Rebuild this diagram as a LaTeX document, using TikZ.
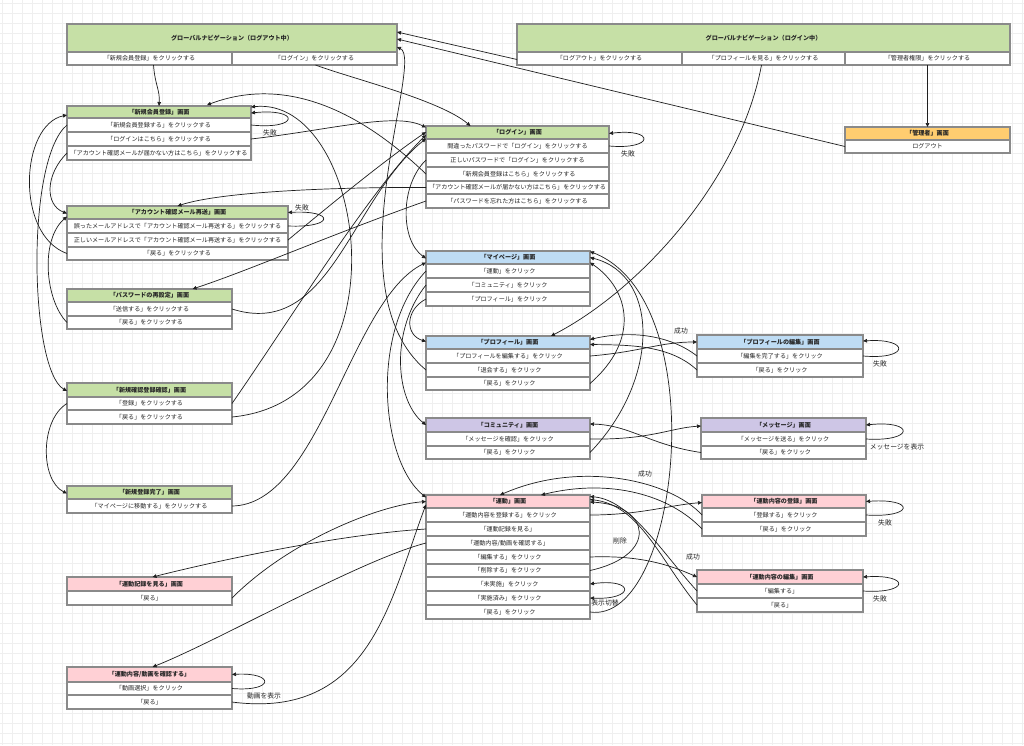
\documentclass[tikz,border=0pt]{standalone}
\usepackage{fontspec}
\setmainfont{Noto Sans CJK JP}
\usetikzlibrary{arrows.meta}
\definecolor{cgreen}{HTML}{C6E0A6}
\definecolor{cblue}{HTML}{BEDCF4}
\definecolor{cpurple}{HTML}{CEC6E6}
\definecolor{cpink}{HTML}{FFD0D5}
\definecolor{corange}{HTML}{FFCD70}
\definecolor{cborder}{HTML}{8A8A8A}
\definecolor{gridc}{HTML}{EFEFEF}
\definecolor{linec}{HTML}{1E1E1E}
\tikzset{
 cellsty/.style={draw=cborder, line width=1.1pt, inner sep=0pt, outer sep=0pt, font=\fontsize{6.1}{7}\selectfont, text=black!85},
 edge/.style={draw=linec, line width=0.7pt, -{Triangle[length=4pt,width=3.6pt]}},
 edgeb/.style={draw=linec, line width=0.7pt, {Triangle[length=4pt,width=3.6pt]}-{Triangle[length=4pt,width=3.6pt]}},
 lab/.style={font=\fontsize{6.8}{8}\selectfont, inner sep=1pt, text=black!85},
 gridline/.style={draw=gridc, line width=0.5pt}
}
\newcommand\cbox[7]{\pgfmathsetmacro\cbw{#4-#3}\pgfmathsetmacro\cbh{#6-#5}%
 \node[cellsty,fill=#2,minimum width=\cbw pt,minimum height=\cbh pt] (#1) at ({(#3+#4)/2},{(#5+#6)/2}) {#7};}
\newcommand\hdrbox[7]{\pgfmathsetmacro\cbw{#4-#3}\pgfmathsetmacro\cbh{#6-#5}%
 \node[cellsty,fill=#2,minimum width=\cbw pt,minimum height=\cbh pt] (#1) at ({(#3+#4)/2},{(#5+#6)/2}) {\bfseries #7};}
\begin{document}
\begin{tikzpicture}[x=1pt,y=-1pt]
\useasboundingbox (0,0) rectangle (1024,745);
\fill[white] (0,0) rectangle (1024,745);
\foreach \gx in {2,12,...,1022} {\draw[gridline] (\gx,0) -- (\gx,745);}
\foreach \gy in {3,13,...,743} {\draw[gridline] (0,\gy) -- (1024,\gy);}
% global nav logged out
\hdrbox{gout}{cgreen}{67}{397}{24}{52}{グローバルナビゲーション（ログアウト中）}
\cbox{gouta}{white}{67}{232}{52}{65}{「新規会員登録」をクリックする}
\cbox{goutb}{white}{232}{397}{52}{65}{「ログイン」をクリックする}
% global nav logged in
\hdrbox{gin}{cgreen}{517}{1010}{24}{52}{グローバルナビゲーション（ログイン中）}
\cbox{gina}{white}{517}{682}{52}{65}{「ログアウト」をクリックする}
\cbox{ginb}{white}{682}{845}{52}{65}{「プロフィールを見る」をクリックする}
\cbox{ginc}{white}{845}{1010}{52}{65}{「管理者権限」をクリックする}
% admin
\hdrbox{adm}{corange}{845}{1010}{127}{140}{「管理者」画面}
\cbox{adma}{white}{845}{1010}{140}{153}{ログアウト}
% new member
\hdrbox{nk}{cgreen}{67}{251}{106}{118}{「新規会員登録」画面}
\cbox{nka}{white}{67}{251}{118}{132}{「新規会員登録する」をクリックする}
\cbox{nkb}{white}{67}{251}{132}{146}{「ログインはこちら」をクリックする}
\cbox{nkc}{white}{67}{251}{146}{160}{「アカウント確認メールが届かない方はこちら」をクリックする}
% resend
\hdrbox{rs}{cgreen}{67}{288}{206}{219}{「アカウント確認メール再送」画面}
\cbox{rsa}{white}{67}{288}{219}{233}{誤ったメールアドレスで「アカウント確認メール再送する」をクリックする}
\cbox{rsb}{white}{67}{288}{233}{247}{正しいメールアドレスで「アカウント確認メール再送する」をクリックする}
\cbox{rsc}{white}{67}{288}{247}{260}{「戻る」をクリックする}
% password reset
\hdrbox{pw}{cgreen}{67}{232}{289}{302}{「パスワードの再設定」画面}
\cbox{pwa}{white}{67}{232}{302}{316}{「送信する」をクリックする}
\cbox{pwb}{white}{67}{232}{316}{329}{「戻る」をクリックする}
% confirm
\hdrbox{cf}{cgreen}{67}{232}{383}{397}{「新規確認登録確認」画面}
\cbox{cfa}{white}{67}{232}{397}{410}{「登録」をクリックする}
\cbox{cfb}{white}{67}{232}{410}{424}{「戻る」をクリックする}
% done
\hdrbox{dn}{cgreen}{67}{232}{486}{499}{「新規登録完了」画面}
\cbox{dna}{white}{67}{232}{499}{513}{「マイページに移動する」をクリックする}
% login
\hdrbox{lg}{cgreen}{426}{609}{126}{139}{「ログイン」画面}
\cbox{lga}{white}{426}{609}{139}{153}{間違ったパスワードで「ログイン」をクリックする}
\cbox{lgb}{white}{426}{609}{153}{167}{正しいパスワードで「ログイン」をクリックする}
\cbox{lgc}{white}{426}{609}{167}{181}{「新規会員登録はこちら」をクリックする}
\cbox{lgd}{white}{426}{609}{181}{194}{「アカウント確認メールが届かない方はこちら」をクリックする}
\cbox{lge}{white}{426}{609}{194}{208}{「パスワードを忘れた方はこちら」をクリックする}
% mypage
\hdrbox{mp}{cblue}{426}{590}{251}{264}{「マイページ」画面}
\cbox{mpa}{white}{426}{590}{264}{278}{「運動」をクリック}
\cbox{mpb}{white}{426}{590}{278}{292}{「コミュニティ」をクリック}
\cbox{mpc}{white}{426}{590}{292}{306}{「プロフィール」をクリック}
% profile
\hdrbox{pf}{cblue}{426}{590}{336}{349}{「プロフィール」画面}
\cbox{pfa}{white}{426}{590}{349}{363}{「プロフィールを編集する」をクリック}
\cbox{pfb}{white}{426}{590}{363}{377}{「退会する」をクリック}
\cbox{pfc}{white}{426}{590}{377}{390}{「戻る」をクリック}
% profile edit
\hdrbox{pe}{cblue}{697}{863}{335}{349}{「プロフィールの編集」画面}
\cbox{pea}{white}{697}{863}{349}{363}{「編集を完了する」をクリック}
\cbox{peb}{white}{697}{863}{363}{377}{「戻る」をクリック}
% community
\hdrbox{cm}{cpurple}{426}{590}{418}{432}{「コミュニティ」画面}
\cbox{cma}{white}{426}{590}{432}{446}{「メッセージを確認」をクリック}
\cbox{cmb}{white}{426}{590}{446}{459}{「戻る」をクリック}
% message
\hdrbox{ms}{cpurple}{701}{866}{418}{432}{「メッセージ」画面}
\cbox{msa}{white}{701}{866}{432}{446}{「メッセージを送る」をクリック}
\cbox{msb}{white}{701}{866}{446}{459}{「戻る」をクリック}
% exercise
\hdrbox{ex}{cpink}{426}{590}{495}{508}{「運動」画面}
\cbox{exa}{white}{426}{590}{508}{522}{「運動内容を登録する」をクリック}
\cbox{exb}{white}{426}{590}{522}{536}{「運動記録を見る」}
\cbox{exc}{white}{426}{590}{536}{550}{「運動内容/動画を確認する」}
\cbox{exd}{white}{426}{590}{550}{564}{「編集する」をクリック}
\cbox{exe}{white}{426}{590}{564}{577}{「削除する」をクリック}
\cbox{exf}{white}{426}{590}{577}{591}{「未実施」をクリック}
\cbox{exg}{white}{426}{590}{591}{605}{「実施済み」をクリック}
\cbox{exh}{white}{426}{590}{605}{619}{「戻る」をクリック}
% exercise register
\hdrbox{er}{cpink}{702}{866}{495}{508}{「運動内容の登録」画面}
\cbox{era}{white}{702}{866}{508}{522}{「登録する」をクリック}
\cbox{erb}{white}{702}{866}{522}{536}{「戻る」をクリック}
% exercise edit
\hdrbox{ee}{cpink}{697}{863}{570}{584}{「運動内容の編集」画面}
\cbox{eea}{white}{697}{863}{584}{598}{「編集する」}
\cbox{eeb}{white}{697}{863}{598}{612}{「戻る」}
% record
\hdrbox{rc}{cpink}{67}{232}{577}{591}{「運動記録を見る」画面}
\cbox{rca}{white}{67}{232}{591}{605}{「戻る」}
% video
\hdrbox{vd}{cpink}{67}{232}{667}{682}{「運動内容/動画を確認する」}
\cbox{vda}{white}{67}{232}{682}{695}{「動画選択」をクリック}
\cbox{vdb}{white}{67}{232}{695}{709}{「戻る」}

% ---------- edges ----------
\draw[edge] ([xshift=4pt]gouta.south) .. controls (155,85) and (160,90) .. (nk.north);
\draw[edge] ([xshift=1pt]goutb.south) .. controls (350,78) and (440,100) .. ([xshift=-47pt]lg.north);
\draw[edge] ([yshift=-1pt]gina.west) -- ([yshift=6pt]gout.east);
\draw[edge] (adma.west) -- ([yshift=-1pt]gout.east);
\draw[edge] (pfb.west) .. controls (330,290) and (425,60) .. ([yshift=-9pt]gout.east);
\draw[edge] ([xshift=-2pt]ginb.south) .. controls (740,180) and (640,290) .. ([xshift=43pt]pf.north);
\draw[edge] (ginc.south) -- (adm.north);
% new member
\draw[edge] (nka.east) .. controls (300,130) and (300,108) .. ([yshift=-1pt]nk.east);
\node[lab] (l1) at (270,133) {失敗};
\draw[edge] (nka.west) .. controls (25,160) and (30,370) .. ([yshift=-1pt]cf.west);
\draw[edge] (nkb.east) .. controls (330,130) and (395,112) .. ([yshift=5pt]lg.west);
\draw[edge] (nkc.west) .. controls (45,175) and (45,205) .. ([yshift=-1pt]rs.west);
\draw[edge] (rsc.west) .. controls (15,235) and (20,125) .. ([yshift=-3pt]nk.west);
% login
\draw[edge] (lga.east) .. controls (655,150) and (655,128) .. ([yshift=-1pt]lg.east);
\node[lab] (l2) at (628,154) {失敗};
\draw[edge] (lgb.west) .. controls (400,185) and (400,240) .. ([yshift=-1pt]mp.west);
\draw[edge] (lgc.west) .. controls (380,130) and (300,70) .. ([xshift=48pt,yshift=1pt]nk.north);
\draw[edge] (lgd.west) .. controls (330,187) and (220,192) .. ([xshift=0pt]rs.north);
\draw[edge] (lge.west) .. controls (330,235) and (250,270) .. ([xshift=43pt]pw.north);
% resend
\draw[edge] (rsa.east) .. controls (335,228) and (335,210) .. ([yshift=0pt]rs.east);
\node[lab] (l3) at (302,208) {失敗};
\draw[edge] (rsb.east) .. controls (330,205) and (385,160) .. ([yshift=0.5pt]lg.west);
% password reset
\draw[edge] (pwa.east) .. controls (330,340) and (350,200) .. ([yshift=-6pt]lg.west);
\draw[edge] (pwb.west) .. controls (45,300) and (40,240) .. ([yshift=-4pt]rs.west);
% confirm
\draw[edge] (cfa.west) .. controls (40,420) and (40,480) .. ([yshift=-1pt]dn.west);
\draw[edge] (cfa.east) .. controls (290,320) and (370,190) .. ([yshift=-2.5pt]lg.west);
\draw[edge] (cfb.east) .. controls (410,400) and (365,95) .. ([yshift=5pt]nk.east);
% done
\draw[edge] (dna.east) .. controls (320,505) and (350,300) .. ([yshift=-5pt]mp.west);
% mypage
\draw[edge] (mpa.west) .. controls (370,330) and (380,460) .. ([yshift=4pt]ex.west);
\draw[edge] (mpb.west) .. controls (390,330) and (395,400) .. (cm.west);
\draw[edge] (mpc.west) .. controls (405,310) and (405,335) .. ([yshift=1pt]pf.west);
% profile
\draw[edge] (pfa.east) .. controls (640,352) and (660,342) .. (pe.west);
\draw[edge] (pfc.east) .. controls (640,340) and (630,290) .. ([yshift=-5pt]mp.east);
\draw[edge] (pea.west) .. controls (670,335) and (630,330) .. ([yshift=3pt]pf.east);
\node[lab] (l4) at (681,331) {成功};
\draw[edge] (peb.west) .. controls (670,345) and (630,345) .. ([yshift=-2pt]pf.east);
\draw[edge] (pea.east) .. controls (910,360) and (910,338) .. ([yshift=1pt]pe.east);
\node[lab] (l5) at (880,364) {失敗};
% community
\draw[edge] (cma.east) .. controls (650,440) and (670,428) .. ([yshift=-1pt]ms.west);
\draw[edge] (cmb.east) .. controls (660,380) and (660,275) .. ([yshift=0pt]mp.east);
\draw[edge] (msb.west) .. controls (650,445) and (630,425) .. ([yshift=1pt]cm.east);
\draw[edge] (msa.east) .. controls (915,442) and (915,420) .. (ms.east);
\node[lab] (l6) at (897,447) {メッセージを表示};
% exercise
\draw[edge] (exa.east) .. controls (640,515) and (670,505) .. ([yshift=-1pt]er.west);
\draw[edge] (exb.west) .. controls (330,535) and (200,565) .. ([xshift=3pt]rc.north);
\draw[edge] (exc.west) .. controls (360,560) and (220,640) .. ([xshift=3pt]vd.north);
\draw[edge] (exd.east) .. controls (640,555) and (670,565) .. ([yshift=0pt]ee.west);
\draw[edge] (exe.east) .. controls (660,555) and (650,505) .. ([yshift=-0.5pt]ex.east);
\node[lab] (l7) at (620,541) {削除};
\draw[edgeb] (exg.east) .. controls (635,600) and (635,578) .. (exf.east);
\node[lab] (l8) at (605,603) {表示切替};
\draw[edge] (exh.east) .. controls (680,625) and (715,300) .. ([yshift=6pt]mp.east);
\draw[edge] (era.west) .. controls (670,480) and (580,460) .. ([xshift=-8pt]ex.north);
\node[lab] (l9) at (645,474) {成功};
\draw[edge] (erb.west) .. controls (670,495) and (610,478) .. ([xshift=33pt]ex.north);
\draw[edge] (era.east) .. controls (915,518) and (915,498) .. ([yshift=0pt]er.east);
\node[lab] (l10) at (885,523) {失敗};
\draw[edge] (eea.west) .. controls (660,550) and (630,500) .. ([yshift=5pt]ex.east);
\node[lab] (l11) at (693,557) {成功};
\draw[edge] (eeb.west) .. controls (660,560) and (640,505) .. ([yshift=2pt]ex.east);
\draw[edge] (eea.east) .. controls (910,594) and (910,574) .. (ee.east);
\node[lab] (l12) at (880,599) {失敗};
% record / video
\draw[edge] (rca.east) .. controls (290,540) and (380,505) .. ([yshift=0pt]ex.west);
\draw[edge] (vda.east) .. controls (275,692) and (275,672) .. ([yshift=0pt]vd.east);
\node[lab] (l13) at (264,696) {動画を表示};
\draw[edge] (vdb.east) .. controls (370,720) and (390,600) .. ([yshift=-3pt]ex.west);
\end{tikzpicture}
\end{document}
